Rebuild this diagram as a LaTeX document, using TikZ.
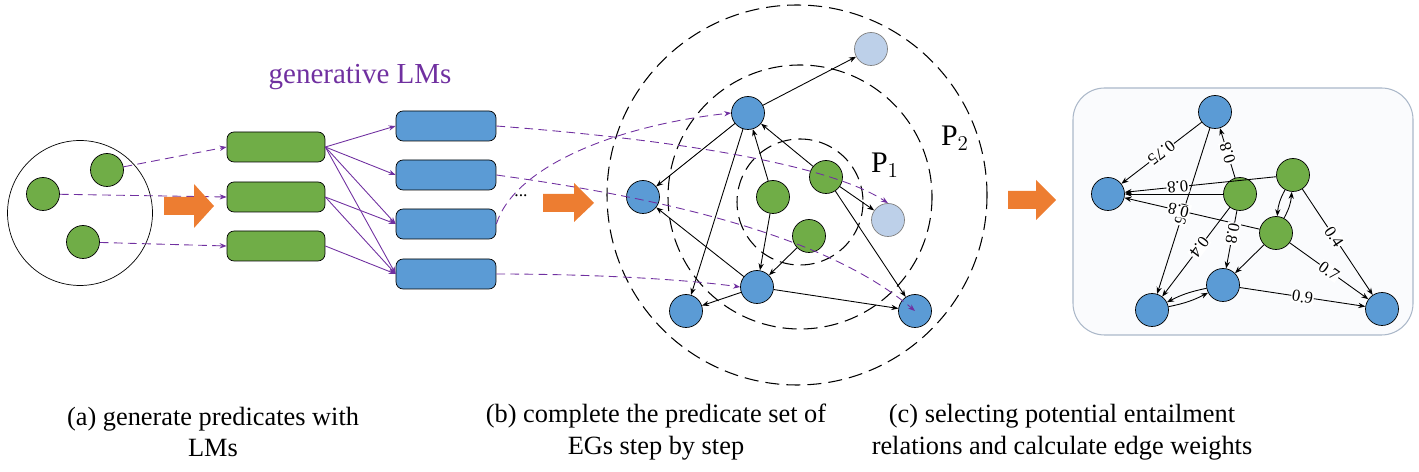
\documentclass[tikz,border=0pt]{standalone}
\usepackage{fontspec}
\setmainfont{Liberation Serif}
\usetikzlibrary{arrows.meta,shapes.geometric}
\definecolor{gn}{HTML}{70AD47}
\definecolor{bl}{HTML}{5B9BD5}
\definecolor{lb}{HTML}{BDD0E9}
\definecolor{og}{HTML}{ED7D31}
\definecolor{pp}{HTML}{7030A0}
\begin{document}
\begin{tikzpicture}[x=0.02cm,y=-0.02cm,
  gdot/.style={circle,draw=black,fill=gn,minimum size=0.66cm,inner sep=0},
  bdot/.style={circle,draw=black,fill=bl,minimum size=0.66cm,inner sep=0},
  ldot/.style={circle,draw=gray,fill=lb,minimum size=0.66cm,inner sep=0},
  grect/.style={rectangle,rounded corners=4pt,draw=black,fill=gn,minimum width=1.96cm,minimum height=0.6cm},
  brect/.style={rectangle,rounded corners=4pt,draw=black,fill=bl,minimum width=2cm,minimum height=0.6cm},
  pa/.style={draw=pp,-{Stealth[length=4pt]},line width=0.5pt},
  pd/.style={draw=pp,dash pattern=on 5pt off 3pt,-{Stealth[length=4pt]},line width=0.5pt},
  ea/.style={draw=black,-{Stealth[length=4pt]},line width=0.5pt},
  ring/.style={draw=black,dash pattern=on 8pt off 4pt,line width=0.6pt},
  wl/.style={fill=white,inner sep=0.5pt,font=\fontsize{9.5}{9.5}\selectfont,sloped,allow upside down},
  oarr/.style={fill=og},
  captxt/.style={align=center,font=\rmfamily\fontsize{15}{18}\selectfont}]
\useasboundingbox (0,0) rectangle (1419,472);
% (a)
\node[circle,draw=black,minimum size=2.9cm,inner sep=0] (C) at (80,213) {};
\node[gdot] (d1) at (107,170) {};
\node[gdot] (d2) at (43,194) {};
\node[gdot] (d3) at (83,242) {};
\node[grect] (g1) at (276,147) {};
\node[grect] (g2) at (276,197) {};
\node[grect] (g3) at (276,246) {};
\node[brect] (b1) at (446,126) {};
\node[brect] (b2) at (446,175) {};
\node[brect] (b3) at (446,224) {};
\node[brect] (b4) at (446,274) {};
\node[text=pp,font=\rmfamily\fontsize{16.5}{16.5}\selectfont] (glm) at (360,77) {generative LMs};
\draw[pd] (d1) -- (g1.west);
\draw[pd] (d2) -- (g2.west);
\draw[pd] (d3) -- (g3.west);
\draw[pa] (g1.east) -- (b1.west);
\draw[pa] (g1.east) -- (b2.west);
\draw[pa] (g1.east) -- (b3.west);
\draw[pa] (g1.east) -- (b4.west);
\draw[pa] (g2.east) -- (b3.west);
\draw[pa] (g2.east) -- (b4.west);
\draw[pa] (g3.east) -- (b4.west);
\node (dots) at (521,196) {...};
% orange arrows
\fill[oarr] (164,197)--(194,197)--(194,184)--(214,206)--(194,228)--(194,215)--(164,215)--cycle;
\fill[oarr] (543,194)--(574,194)--(574,183)--(594,203)--(574,222)--(574,212)--(543,212)--cycle;
\fill[oarr] (1008,191)--(1036,191)--(1036,180)--(1056,200)--(1036,220)--(1036,209)--(1008,209)--cycle;
% (b)
\draw[ring] (797,195) circle[radius=190];
\draw[ring] (800,197) circle[radius=132];
\draw[ring] (800,202) circle[radius=63];
\node[ldot] (l1) at (871,49) {};
\node[bdot] (bt) at (748,113) {};
\node[gdot] (p1) at (826,177) {};
\node[gdot] (gc) at (773,197) {};
\node[ldot] (l2) at (888,220) {};
\node[bdot] (bw) at (643,197) {};
\node[gdot] (gl) at (809,236) {};
\node[bdot] (bb) at (757,287) {};
\node[bdot] (bbl) at (686,311) {};
\node[bdot] (bbr) at (915,311) {};
\node[font=\fontsize{17}{17}\selectfont] (P1) at (885,165) {P$_1$};
\node[font=\fontsize{17}{17}\selectfont] (P2) at (955,138) {P$_2$};
\draw[ea] (bt) -- (l1);
\draw[ea] (bt) -- (bw);
\draw[ea] (bt) -- (bbl);
\draw[ea] (gc) -- (bt);
\draw[ea] (p1) -- (bt);
\draw[ea] (gc) -- (bb);
\draw[ea] (gl) -- (bb);
\draw[ea] (bb) -- (bw);
\draw[ea] (bb) -- (bbl);
\draw[ea] (bb) -- (bbr);
\draw[ea] (p1) -- (l2);
\draw[ea] (p1) -- (bbr);
\draw[pd] (b1.east) .. controls (680,140) and (830,165) .. (l2.north);
\draw[pd] (b2.east) .. controls (640,195) and (820,230) .. (bbr.center);
\draw[pd] (b3.east) .. controls (515,165) and (620,125) .. (bt.west);
\draw[pd] (b4.east) .. controls (600,274) and (690,280) .. (bb.west);
% (c)
\draw[draw=lb!70!gray,fill=lb!8,rounded corners=18pt,line width=0.6pt] (1073,88) rectangle (1413,335);
\node[bdot] (T) at (1215,112) {};
\node[bdot] (Lb) at (1108,194) {};
\node[gdot] (Ga) at (1240,194) {};
\node[gdot] (Gb) at (1293,175) {};
\node[gdot] (Gc) at (1276,233) {};
\node[bdot] (Bm) at (1223,285) {};
\node[bdot] (Bl) at (1152,310) {};
\node[bdot] (Br) at (1382,309) {};
\draw[ea] (T) -- node[wl]{0.75} (Lb);
\draw[ea] (T) -- node[wl,pos=0.52]{0.6} (Bl);
\draw[ea] (Ga) -- node[wl]{0.8} (T);
\draw[ea] (Gb) -- node[wl,pos=0.65]{0.8} (Lb);
\draw[ea] (Ga) -- (Lb);
\draw[ea] (Gc) -- node[wl,pos=0.6]{0.8} (Lb);
\draw[ea] (Ga) -- node[wl,pos=0.45]{0.4} (Bl);
\draw[ea] (Ga) -- node[wl,pos=0.4]{0.8} (Bm);
\draw[ea] (Gb) to[bend right=12] (Gc);
\draw[ea] (Gc) to[bend right=12] (Gb);
\draw[ea] (Gc) -- (Bm);
\draw[ea] (Gc) -- node[wl]{0.7} (Br);
\draw[ea] (Gb) -- node[wl,pos=0.45]{0.4} (Br);
\draw[ea] (Bm) -- node[wl]{0.9} (Br);
\draw[ea] (Bm) to[bend right=8] (Bl);
\draw[ea] (Bl) to[bend right=8] (Bm);
% captions
\node[captxt] (ca) at (213,432) {(a) generate predicates with\\LMs};
\node[captxt] (cb) at (656,432) {(b) complete the predicate set of\\EGs step by step};
\node[captxt] (cc) at (1062,432) {(c) selecting potential entailment\\relations and calculate edge weights};
\end{tikzpicture}
\end{document}
